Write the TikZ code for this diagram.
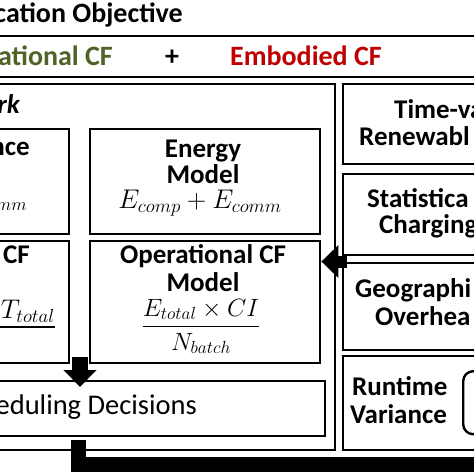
\RequirePackage{fix-cm}
\documentclass[tikz,border=0pt]{standalone}
\usepackage{amsmath}
\usepackage{fontspec}
\setmainfont{Carlito}
\usetikzlibrary{arrows.meta}
\definecolor{opgreen}{HTML}{4F6228}
\definecolor{embred}{HTML}{C00000}
\begin{document}
\begin{tikzpicture}[x=1pt,y=-1pt,
  box/.style={draw=black,line width=2.4pt,inner sep=0pt,anchor=north west},
  rbox/.style={box,rounded corners=10pt},
  lbl/.style={font=\fontsize{27}{30}\selectfont\bfseries,inner sep=0pt},
  ttl/.style={font=\fontsize{28}{30}\selectfont\bfseries,inner sep=0pt},
  plaintxt/.style={font=\fontsize{28.5}{30}\selectfont,inner sep=0pt},
  mth/.style={font=\fontsize{25}{30}\selectfont,inner sep=0pt},
  bigmth/.style={font=\fontsize{27}{30}\selectfont,inner sep=0pt},
  fatarrow/.style={line width=#1,-{Triangle[width=32pt,length=17pt]}},
  fatline/.style={line width=15pt,line join=miter}]
\useasboundingbox (0,0) rectangle (474,474);
\clip (0,0) rectangle (474,474);
\fill[white] (0,0) rectangle (474,474);

% objective
\node[ttl,anchor=base east] (title) at (183,22) {cation Objective};
\node[box,minimum width=500pt,minimum height=41pt] (obj) at (-10,35) {};
\node[ttl,text=opgreen,anchor=base east] (opcf) at (113,65) {ational CF};
\node[ttl,anchor=base] (plus) at (172,65) {+};
\node[ttl,text=embred,anchor=base west] (emb) at (230,65) {Embodied CF};

% framework
\node[box,minimum width=344pt,minimum height=366pt] (fw) at (-10,83) {};
\node[lbl,anchor=base east] (fwlbl) at (20,113) {\itshape rk};

\node[box,minimum width=78pt,minimum height=105pt] (perf) at (-10,128) {};
\node[lbl,anchor=base east] (perft) at (30,155) {nce};
\node[inner sep=0pt,anchor=base east,font=\fontsize{18}{20}\selectfont] (perfm) at (27,210) {$mm$};

\node[box,minimum width=230pt,minimum height=105pt] (energy) at (89,128) {};
\node[lbl,anchor=base] (en1) at (203,157) {Energy};
\node[lbl,anchor=base] (en2) at (203,183) {Model};
\node[bigmth,anchor=base] (en3) at (200,208) {$E_{comp}+E_{comm}$};

\node[box,minimum width=78pt,minimum height=122pt] (emb2) at (-10,240) {};
\node[lbl,anchor=base east] (embt) at (30,263) {CF};
\node[bigmth,anchor=base east] (embm) at (55,318) {$T_{total}$};
\coordinate (barL) at (-10,327);
\coordinate (barR) at (55,327);
\draw[line width=1.4pt] (barL) -- (barR);

\node[box,minimum width=230pt,minimum height=122pt] (opm) at (89,240) {};
\node[lbl,anchor=base] (op1) at (203,263) {Operational CF};
\node[lbl,anchor=base] (op2) at (203,291) {Model};
\node[mth,anchor=base] (op3) at (201,333) {$\dfrac{E_{total}\times CI}{N_{batch}}$};

\node[box,minimum width=334pt,minimum height=55pt] (sched) at (-10,380) {};
\node[plaintxt,anchor=base east] (schedt) at (197,414) {eduling Decisions};

% right column
\node[box,minimum width=160pt,minimum height=80pt] (tv) at (342,83) {};
\node[lbl,anchor=base west] (tv1) at (394,118) {Time-va};
\node[lbl,anchor=base west] (tv2) at (359,145) {Renewabl};

\node[box,minimum width=160pt,minimum height=81pt] (st) at (342,173) {};
\node[lbl,anchor=base west] (st1) at (367,207) {Statistica};
\node[lbl,anchor=base west] (st2) at (379,233) {Charging};

\node[box,minimum width=160pt,minimum height=87pt] (geo) at (342,262) {};
\node[lbl,anchor=base west] (geo1) at (355,297) {Geographi};
\node[lbl,anchor=base west] (geo2) at (375,325) {Overhea};

\node[box,minimum width=160pt,minimum height=94pt] (run) at (342,355) {};
\node[lbl,anchor=base west] (run1) at (352,395) {Runtime};
\node[lbl,anchor=base west] (run2) at (350,423) {Variance};
\node[rbox,minimum width=60pt,minimum height=63pt] (rv) at (462,370) {};

% connectors
\coordinate (rstart) at (347,261.5);
\draw[fatarrow=12pt] (rstart) -- (opm.east |- rstart);
\coordinate (dstart) at (80,357);
\coordinate (dend) at (80,387);
\draw[fatarrow=16pt] (dstart) -- (dend);
\coordinate (fbstart) at (78.5,440);
\coordinate (fbend) at (490,464.5);
\draw[fatline] (fbstart) |- (fbend);
\end{tikzpicture}
\end{document}
